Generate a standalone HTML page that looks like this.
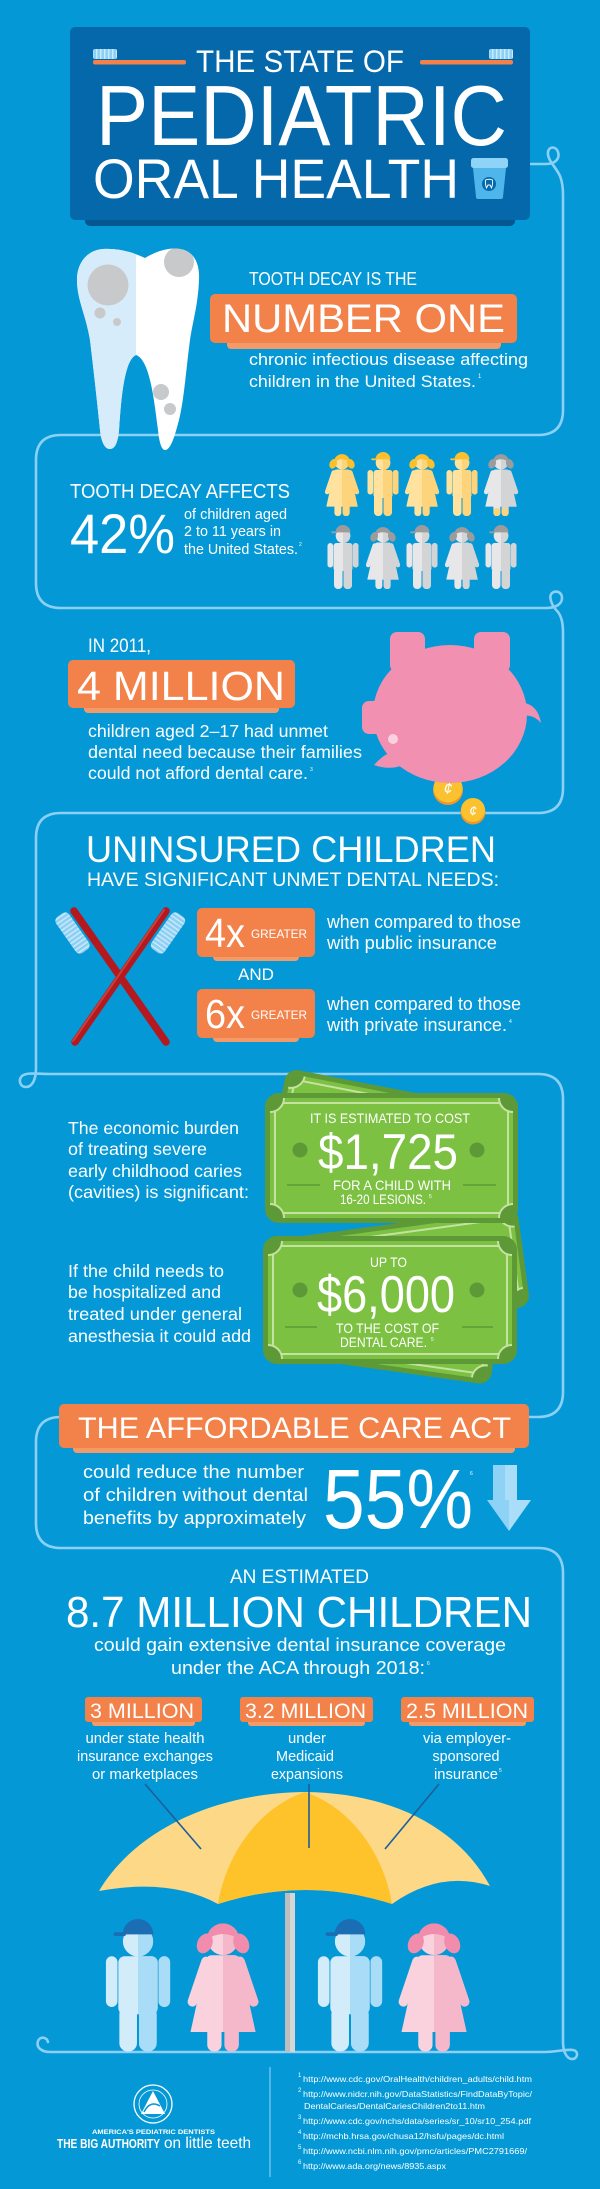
<!DOCTYPE html>
<html><head><meta charset="utf-8"><style>
html,body{margin:0;padding:0;background:#0499D6;}
svg{display:block;}
</style></head><body>
<svg xmlns="http://www.w3.org/2000/svg" xmlns:xlink="http://www.w3.org/1999/xlink" width="600" height="2189" viewBox="0 0 600 2189" font-family="'Liberation Sans', sans-serif">
<defs>
<pattern id="brV" width="4" height="10" patternUnits="userSpaceOnUse"><rect width="4" height="10" fill="#8ED0F4"/><rect width="1.4" height="10" fill="#CBEAFB"/></pattern>
<pattern id="brH" width="10" height="4" patternUnits="userSpaceOnUse"><rect width="10" height="4" fill="#8ED0F4"/><rect width="10" height="1.4" fill="#CBEAFB"/></pattern>
<clipPath id="rh"><rect x="0" y="-5" width="40" height="80"/></clipPath>
<path id="toothP" d="M145 258 C155 252 168 247 180 249 C193 251 200 262 199 280 C198 305 193 320 190 340 C186 370 184 400 179 420 C175 435 171 450 165 450 C161 450 159 440 158 430 C154 400 150 360 136 355 C124 360 121 400 119 430 C118 442 115 449 110 449 C104 449 101 440 100 430 C97 400 93 365 90 340 C86 315 77 300 77 280 C77 262 88 250 103 249 C118 248 132 252 145 258 Z"/>
<clipPath id="toothClip"><use xlink:href="#toothP"/></clipPath>
<clipPath id="toothLeft"><rect x="0" y="200" width="136" height="300"/></clipPath>
<clipPath id="c1"><rect x="270" y="1098" width="243" height="120"/></clipPath>
<clipPath id="c2"><rect x="268" y="1241" width="244" height="118"/></clipPath>
<clipPath id="cb1"><rect x="5" y="5" width="222" height="115"/></clipPath>
<clipPath id="cb2"><rect x="5" y="5" width="244" height="90"/></clipPath>
<clipPath id="cb3"><rect x="5" y="5" width="210" height="110"/></clipPath>
<g id="boy" fill="currentColor">
  <circle cx="0" cy="10.8" r="7.3"/>
  <rect x="-9.5" y="18" width="19" height="28" rx="3"/>
  <rect x="-15.5" y="18" width="5.6" height="24.5" rx="2.8"/>
  <rect x="9.9" y="18" width="5.6" height="24.5" rx="2.8"/>
  <rect x="-9" y="42" width="8.5" height="22" rx="4"/>
  <rect x="0.5" y="42" width="8.5" height="22" rx="4"/>
</g>
<g id="girl" fill="currentColor" stroke="none">
  <circle cx="0" cy="10" r="7.4"/>
  <path d="M-5.5 17.5 H5.5 Q7.5 17.5 8 19.5 L15.7 54.6 H-15.7 L-8 19.5 Q-7.5 17.5 -5.5 17.5Z"/>
  <path d="M-8.2 20.5 L-14.8 40" stroke="currentColor" stroke-width="4.6" stroke-linecap="round"/>
  <path d="M8.2 20.5 L14.8 40" stroke="currentColor" stroke-width="4.6" stroke-linecap="round"/>
  <rect x="-7.6" y="50" width="6.9" height="14" rx="3.2"/>
  <rect x="0.7" y="50" width="6.9" height="14" rx="3.2"/>
</g>
<g id="cap" fill="currentColor">
  <path d="M-7.4 7.4 A7.4 7.4 0 0 1 7.4 7.4 Z"/>
  <rect x="-11.8" y="6.4" width="6" height="1.8" rx="0.9"/>
</g>
<g id="hair" fill="currentColor">
  <ellipse cx="-8.8" cy="11.8" rx="3.6" ry="5" transform="rotate(25 -8.8 11.8)"/>
  <ellipse cx="8.8" cy="11.8" rx="3.6" ry="5" transform="rotate(-25 8.8 11.8)"/>
  <path d="M-7.9 10 A7.9 7.9 0 0 1 7.9 10 Q0 4.5 -7.9 10Z"/>
</g>
</defs>

<rect width="600" height="2189" fill="#0499D6"/>

<!-- floss line -->
<path fill="none" stroke="#8CD0F5" stroke-width="2.6" stroke-linecap="round" d="M508 164 L546 164 C556 164 560 158 558 152 C556 146 549 146 548 152 C547 160 556 167 560 176 C562 181 563 187 563 195 L563 410 Q563 435 538 435 L61 435 Q36 435 36 460 L36 583 Q36 608 61 608 L546 608 C556 608 562 604 562 598 C562 592 556 590 552 593 C548 597 552 606 558 612 C561 616 563 622 563 632 L563 788 Q563 813 538 813 L61 813 Q36 813 36 838 L36 1068 C36 1080 32 1087 26 1087 C20 1087 18 1080 22 1076 C27 1072 36 1074 50 1074 L538 1074 Q563 1074 563 1099 L563 1392 Q563 1417 538 1417 L61 1417 Q36 1417 36 1442 L36 1523 Q36 1548 61 1548 L538 1548 Q563 1548 563 1573 L563 2042 C563 2050 566 2059 572 2059 C578 2059 579 2051 573 2050 C566 2049 556 2052 545 2052 L50 2052 C41 2052 36 2047 38 2041 C40 2036 47 2037 48 2042"/>

<!-- HEADER -->
<rect x="85" y="32" width="430" height="194" rx="5" fill="#04578F"/>
<rect x="70" y="27" width="460" height="193" rx="5" fill="#0468AB"/>
<rect x="93" y="60" width="93" height="4.5" rx="2" fill="#F2814A"/>
<rect x="93" y="49" width="24" height="10" rx="2" fill="url(#brV)"/>
<rect x="420" y="60" width="93" height="4.5" rx="2" fill="#F2814A"/>
<rect x="489" y="49" width="24" height="10" rx="2" fill="url(#brV)"/>
<text x="196" y="72" font-size="31.5" fill="#fff" textLength="208" lengthAdjust="spacingAndGlyphs">THE STATE OF</text>
<text x="96" y="145" font-size="85" fill="#fff" textLength="411" lengthAdjust="spacingAndGlyphs">PEDIATRIC</text>
<text x="93" y="198" font-size="56" fill="#fff" textLength="366" lengthAdjust="spacingAndGlyphs">ORAL HEALTH</text>
<!-- floss container -->
<path d="M473 168 H506 L503 197 Q503 199 501 199 H478 Q476 199 476 197 Z" fill="#4FB6EB"/>
<rect x="471" y="158" width="37" height="10" rx="2.5" fill="#8FD3F6"/>
<circle cx="489" cy="184" r="7" fill="#0468AB"/>
<path d="M485.5 180 Q489 178.5 492.5 180 Q493 184 491.5 188 L490 185 H488 L486.5 188 Q485 184 485.5 180Z" fill="none" stroke="#fff" stroke-width="0.9"/>

<!-- SECTION 1 tooth -->
<use xlink:href="#toothP" fill="#FFFFFF"/>
<use xlink:href="#toothP" fill="#D7ECFA" clip-path="url(#toothLeft)"/>
<g clip-path="url(#toothClip)" fill="#C8C9CB">
  <circle cx="108" cy="285" r="20.5"/>
  <circle cx="179" cy="262" r="15"/>
  <circle cx="100" cy="313" r="5.5"/>
  <circle cx="117" cy="322" r="4"/>
  <circle cx="161" cy="392" r="8"/>
  <circle cx="170" cy="409" r="6"/>
</g>
<text x="249" y="285" font-size="18" fill="#fff" textLength="168" lengthAdjust="spacingAndGlyphs">TOOTH DECAY IS THE</text>
<rect x="227" y="300" width="274" height="49" rx="4" fill="#F29A68"/>
<rect x="210" y="294" width="307" height="49" rx="5" fill="#F2814A"/>
<text x="222" y="332" font-size="40" fill="#fff" textLength="283" lengthAdjust="spacingAndGlyphs">NUMBER ONE</text>
<text x="249" y="365" font-size="17" fill="#fff" textLength="279" lengthAdjust="spacingAndGlyphs">chronic infectious disease affecting</text>
<text x="249" y="387" font-size="17" fill="#fff" textLength="227" lengthAdjust="spacingAndGlyphs">children in the United States.</text>
<text x="478" y="378" font-size="6" fill="#fff">1</text>

<!-- SECTION 2 42% -->
<text x="70" y="498" font-size="20" fill="#fff" textLength="220" lengthAdjust="spacingAndGlyphs">TOOTH DECAY AFFECTS</text>
<text x="70" y="553" font-size="56" fill="#fff" textLength="105" lengthAdjust="spacingAndGlyphs">42%</text>
<text x="184" y="519" font-size="15" fill="#fff" textLength="103" lengthAdjust="spacingAndGlyphs">of children aged</text>
<text x="184" y="536" font-size="15" fill="#fff" textLength="97" lengthAdjust="spacingAndGlyphs">2 to 11 years in</text>
<text x="184" y="554" font-size="15" fill="#fff" textLength="114" lengthAdjust="spacingAndGlyphs">the United States.</text>
<text x="299" y="546" font-size="5" fill="#fff">2</text>

<!-- people grid row 1 -->
<g transform="translate(342,452)"><use xlink:href="#girl" color="#FFE29E"/><use xlink:href="#girl" color="#FDD47C" clip-path="url(#rh)"/><use xlink:href="#hair" color="#FCC02E"/></g>
<g transform="translate(383,452)"><use xlink:href="#boy" color="#FFE29E"/><use xlink:href="#boy" color="#FDD47C" clip-path="url(#rh)"/><use xlink:href="#cap" color="#FCC02E"/></g>
<g transform="translate(422,452)"><use xlink:href="#girl" color="#FFE29E"/><use xlink:href="#girl" color="#FDD47C" clip-path="url(#rh)"/><use xlink:href="#hair" color="#FCC02E"/></g>
<g transform="translate(462,452)"><use xlink:href="#boy" color="#FFE29E"/><use xlink:href="#boy" color="#FDD47C" clip-path="url(#rh)"/><use xlink:href="#cap" color="#FCC02E"/></g>
<g transform="translate(501,452)"><use xlink:href="#girl" color="#E7E7E9"/><use xlink:href="#girl" color="#D3D4D6" clip-path="url(#rh)"/><use xlink:href="#hair" color="#9C9C9C"/>
  <rect x="-7.6" y="56" width="6.9" height="8" rx="3" fill="#FDD47C"/><rect x="0.7" y="56" width="6.9" height="8" rx="3" fill="#FDD47C"/></g>
<!-- row 2 -->
<g transform="translate(343,525)"><use xlink:href="#boy" color="#E7E7E9"/><use xlink:href="#boy" color="#D3D4D6" clip-path="url(#rh)"/><use xlink:href="#cap" color="#9C9C9C"/></g>
<g transform="translate(383,525)"><use xlink:href="#girl" color="#E7E7E9"/><use xlink:href="#girl" color="#D3D4D6" clip-path="url(#rh)"/><use xlink:href="#hair" color="#9C9C9C"/></g>
<g transform="translate(422,525)"><use xlink:href="#boy" color="#E7E7E9"/><use xlink:href="#boy" color="#D3D4D6" clip-path="url(#rh)"/><use xlink:href="#cap" color="#9C9C9C"/></g>
<g transform="translate(462,525)"><use xlink:href="#girl" color="#E7E7E9"/><use xlink:href="#girl" color="#D3D4D6" clip-path="url(#rh)"/><use xlink:href="#hair" color="#9C9C9C"/></g>
<g transform="translate(501,525)"><use xlink:href="#boy" color="#E7E7E9"/><use xlink:href="#boy" color="#D3D4D6" clip-path="url(#rh)"/><use xlink:href="#cap" color="#9C9C9C"/></g>

<!-- SECTION 3 4 MILLION -->
<text x="88" y="652" font-size="19" fill="#fff" textLength="63" lengthAdjust="spacingAndGlyphs">IN 2011,</text>
<rect x="84" y="666" width="195" height="47" rx="4" fill="#F29A68"/>
<rect x="68" y="660" width="227" height="48" rx="5" fill="#F2814A"/>
<text x="77" y="700" font-size="41" fill="#fff" textLength="208" lengthAdjust="spacingAndGlyphs">4 MILLION</text>
<text x="88" y="737" font-size="17.5" fill="#fff" textLength="240" lengthAdjust="spacingAndGlyphs">children aged 2–17 had unmet</text>
<text x="88" y="758" font-size="17.5" fill="#fff" textLength="274" lengthAdjust="spacingAndGlyphs">dental need because their families</text>
<text x="88" y="779" font-size="17.5" fill="#fff" textLength="220" lengthAdjust="spacingAndGlyphs">could not afford dental care.</text>
<text x="310" y="771" font-size="5" fill="#fff">3</text>
<!-- coins -->
<circle cx="448" cy="790" r="15" fill="#EE962A"/>
<circle cx="448" cy="788" r="14.5" fill="#FBC12E"/>
<text x="448" y="794" font-size="16" fill="#fff" text-anchor="middle" font-style="italic">¢</text>
<circle cx="473" cy="812" r="12.5" fill="#EE962A"/>
<circle cx="473" cy="810" r="12" fill="#FBC12E"/>
<text x="473" y="815.5" font-size="14" fill="#fff" text-anchor="middle" font-style="italic">¢</text>
<!-- piggy -->
<g fill="#F190B0">
  <rect x="390" y="632" width="35" height="40" rx="7"/>
  <rect x="474" y="632" width="36" height="40" rx="7"/>
  <ellipse cx="450" cy="714" rx="77" ry="69"/>
  <rect x="362" y="701" width="22" height="33" rx="7"/>
  <path d="M525 703 Q538 706 541 723 Q533 714 524 716 Z"/>
  <path d="M374 765 Q384 754 392 752 L401 766 Q388 770 374 765 Z"/>
</g>
<circle cx="393" cy="739" r="5" fill="#FAD2DF"/>

<!-- SECTION 4 uninsured -->
<text x="86" y="862" font-size="37" fill="#fff" textLength="410" lengthAdjust="spacingAndGlyphs">UNINSURED CHILDREN</text>
<text x="87" y="886" font-size="19.5" fill="#fff" textLength="412" lengthAdjust="spacingAndGlyphs">HAVE SIGNIFICANT UNMET DENTAL NEEDS:</text>
<rect x="64.5" y="911" width="16" height="44" rx="5" fill="url(#brH)" transform="rotate(-35 72.5 933)"/>
<rect x="160" y="911" width="16" height="44" rx="5" fill="url(#brH)" transform="rotate(35 168 933)"/>
<line x1="74" y1="911" x2="166" y2="1042" stroke="#B3191F" stroke-width="7.5" stroke-linecap="round"/>
<line x1="166" y1="911" x2="75" y2="1042" stroke="#B3191F" stroke-width="7.5" stroke-linecap="round"/>
<line x1="166" y1="911" x2="75" y2="1042" stroke="#C9403A" stroke-width="2" stroke-linecap="round" transform="translate(-2 -1)"/>
<rect x="213" y="913" width="86" height="48" rx="4" fill="#F29A68"/>
<rect x="197" y="908" width="118" height="49" rx="5" fill="#F2814A"/>
<text x="205" y="947" font-size="41" fill="#fff" textLength="40" lengthAdjust="spacingAndGlyphs">4x</text>
<text x="251" y="938" font-size="11.5" fill="#fff" textLength="56" lengthAdjust="spacingAndGlyphs">GREATER</text>
<text x="238" y="980" font-size="16.5" fill="#fff" textLength="36" lengthAdjust="spacingAndGlyphs">AND</text>
<rect x="213" y="994" width="86" height="48" rx="4" fill="#F29A68"/>
<rect x="197" y="989" width="118" height="49" rx="5" fill="#F2814A"/>
<text x="205" y="1028" font-size="41" fill="#fff" textLength="40" lengthAdjust="spacingAndGlyphs">6x</text>
<text x="251" y="1019" font-size="11.5" fill="#fff" textLength="56" lengthAdjust="spacingAndGlyphs">GREATER</text>
<text x="327" y="928" font-size="18" fill="#fff" textLength="194" lengthAdjust="spacingAndGlyphs">when compared to those</text>
<text x="327" y="949" font-size="18" fill="#fff" textLength="170" lengthAdjust="spacingAndGlyphs">with public insurance</text>
<text x="327" y="1010" font-size="18" fill="#fff" textLength="194" lengthAdjust="spacingAndGlyphs">when compared to those</text>
<text x="327" y="1031" font-size="18" fill="#fff" textLength="180" lengthAdjust="spacingAndGlyphs">with private insurance.</text>
<text x="509" y="1023" font-size="5" fill="#fff">4</text>

<!-- SECTION 5 money -->
<text x="68" y="1134" font-size="17.5" fill="#fff" textLength="171" lengthAdjust="spacingAndGlyphs">The economic burden</text>
<text x="68" y="1155" font-size="17.5" fill="#fff" textLength="139" lengthAdjust="spacingAndGlyphs">of treating severe</text>
<text x="68" y="1177" font-size="17.5" fill="#fff" textLength="174" lengthAdjust="spacingAndGlyphs">early childhood caries</text>
<text x="68" y="1198" font-size="17.5" fill="#fff" textLength="181" lengthAdjust="spacingAndGlyphs">(cavities) is significant:</text>
<text x="68" y="1277" font-size="17.5" fill="#fff" textLength="156" lengthAdjust="spacingAndGlyphs">If the child needs to</text>
<text x="68" y="1298" font-size="17.5" fill="#fff" textLength="153" lengthAdjust="spacingAndGlyphs">be hospitalized and</text>
<text x="68" y="1320" font-size="17.5" fill="#fff" textLength="174" lengthAdjust="spacingAndGlyphs">treated under general</text>
<text x="68" y="1342" font-size="17.5" fill="#fff" textLength="183" lengthAdjust="spacingAndGlyphs">anesthesia it could add</text>

<!-- back bills -->
<g transform="translate(287 1068) rotate(11)">
  <rect x="0" y="0" width="232" height="125" rx="12" fill="#5E9937"/>
  <rect x="5" y="5" width="222" height="115" fill="#7CC142"/>
  <rect x="10" y="10" width="212" height="105" fill="none" stroke="#C4E2A0" stroke-width="2"/>
  <g clip-path="url(#cb1)" fill="#5E9937" stroke="#C4E2A0" stroke-width="2">
    <circle cx="5" cy="5" r="14"/><circle cx="227" cy="5" r="14"/><circle cx="5" cy="120" r="14"/><circle cx="227" cy="120" r="14"/>
  </g>
</g>
<g transform="translate(490 1385) rotate(8) translate(-220 -120)">
  <rect x="0" y="0" width="220" height="120" rx="12" fill="#5E9937"/>
  <rect x="5" y="5" width="210" height="110" fill="#7CC142"/>
  <rect x="10" y="10" width="200" height="100" fill="none" stroke="#C4E2A0" stroke-width="2"/>
  <g clip-path="url(#cb3)" fill="#5E9937" stroke="#C4E2A0" stroke-width="2">
    <circle cx="5" cy="5" r="14"/><circle cx="215" cy="5" r="14"/><circle cx="5" cy="115" r="14"/><circle cx="215" cy="115" r="14"/>
  </g>
</g>
<g transform="translate(517 1207) rotate(-7.7) translate(-254 0)">
  <rect x="0" y="0" width="254" height="100" rx="12" fill="#5E9937"/>
  <rect x="5" y="5" width="244" height="90" fill="#7CC142"/>
  <rect x="10" y="10" width="234" height="80" fill="none" stroke="#C4E2A0" stroke-width="2"/>
  <g clip-path="url(#cb2)" fill="#5E9937" stroke="#C4E2A0" stroke-width="2">
    <circle cx="5" cy="5" r="14"/><circle cx="249" cy="5" r="14"/><circle cx="5" cy="95" r="14"/><circle cx="249" cy="95" r="14"/>
  </g>
</g>
<!-- front bill 1 -->
<g>
  <rect x="265" y="1093" width="253" height="130" rx="14" fill="#5E9937"/>
  <rect x="270" y="1098" width="243" height="120" fill="#7CC142"/>
  <rect x="275" y="1103" width="233" height="110" fill="none" stroke="#C4E2A0" stroke-width="2"/>
  <g clip-path="url(#c1)" fill="#5E9937" stroke="#C4E2A0" stroke-width="2">
    <circle cx="270" cy="1098" r="14"/><circle cx="513" cy="1098" r="14"/><circle cx="270" cy="1218" r="14"/><circle cx="513" cy="1218" r="14"/>
  </g>
  <circle cx="300" cy="1150" r="7.5" fill="#5E9937"/>
  <circle cx="477" cy="1150" r="7.5" fill="#5E9937"/>
  <line x1="287" y1="1185" x2="320" y2="1185" stroke="#5E9937" stroke-width="1.6"/>
  <line x1="463" y1="1185" x2="496" y2="1185" stroke="#5E9937" stroke-width="1.6"/>
  <text x="310" y="1123" font-size="14" fill="#fff" textLength="160" lengthAdjust="spacingAndGlyphs">IT IS ESTIMATED TO COST</text>
  <text x="318" y="1169" font-size="50" fill="#fff" textLength="140" lengthAdjust="spacingAndGlyphs">$1,725</text>
  <text x="333" y="1190" font-size="14" fill="#fff" textLength="118" lengthAdjust="spacingAndGlyphs">FOR A CHILD WITH</text>
  <text x="340" y="1204" font-size="14" fill="#fff" textLength="86" lengthAdjust="spacingAndGlyphs">16-20 LESIONS.</text>
  <text x="429" y="1198" font-size="5" fill="#fff">5</text>
</g>
<!-- front bill 2 -->
<g>
  <rect x="263" y="1236" width="254" height="128" rx="14" fill="#5E9937"/>
  <rect x="268" y="1241" width="244" height="118" fill="#7CC142"/>
  <rect x="273" y="1246" width="234" height="108" fill="none" stroke="#C4E2A0" stroke-width="2"/>
  <g clip-path="url(#c2)" fill="#5E9937" stroke="#C4E2A0" stroke-width="2">
    <circle cx="268" cy="1241" r="14"/><circle cx="512" cy="1241" r="14"/><circle cx="268" cy="1359" r="14"/><circle cx="512" cy="1359" r="14"/>
  </g>
  <circle cx="300" cy="1290" r="7.5" fill="#5E9937"/>
  <circle cx="477" cy="1290" r="7.5" fill="#5E9937"/>
  <line x1="285" y1="1327" x2="317" y2="1327" stroke="#5E9937" stroke-width="1.6"/>
  <line x1="462" y1="1327" x2="493" y2="1327" stroke="#5E9937" stroke-width="1.6"/>
  <text x="370" y="1267" font-size="14" fill="#fff" textLength="37" lengthAdjust="spacingAndGlyphs">UP TO</text>
  <text x="317" y="1312" font-size="52" fill="#fff" textLength="138" lengthAdjust="spacingAndGlyphs">$6,000</text>
  <text x="336" y="1333" font-size="14" fill="#fff" textLength="103" lengthAdjust="spacingAndGlyphs">TO THE COST OF</text>
  <text x="340" y="1347" font-size="14" fill="#fff" textLength="87" lengthAdjust="spacingAndGlyphs">DENTAL CARE.</text>
  <text x="431" y="1341" font-size="5" fill="#fff">5</text>
</g>

<!-- SECTION 6 ACA -->
<rect x="73" y="1410" width="442" height="43" rx="4" fill="#F29A68"/>
<rect x="59" y="1404" width="470" height="44" rx="5" fill="#F2814A"/>
<text x="78" y="1438" font-size="30" fill="#fff" textLength="433" lengthAdjust="spacingAndGlyphs">THE AFFORDABLE CARE ACT</text>
<text x="83" y="1478" font-size="18.5" fill="#fff" textLength="221" lengthAdjust="spacingAndGlyphs">could reduce the number</text>
<text x="83" y="1501" font-size="18.5" fill="#fff" textLength="225" lengthAdjust="spacingAndGlyphs">of children without dental</text>
<text x="83" y="1524" font-size="18.5" fill="#fff" textLength="223" lengthAdjust="spacingAndGlyphs">benefits by approximately</text>
<text x="323" y="1528" font-size="84" fill="#fff" textLength="150" lengthAdjust="spacingAndGlyphs">55%</text>
<text x="470" y="1475" font-size="5" fill="#fff">6</text>
<rect x="493" y="1465" width="12" height="38" fill="#8ED2F6"/>
<rect x="505" y="1465" width="12" height="38" fill="#A9DDF8"/>
<path d="M487 1500 H509 V1531 Z" fill="#8ED2F6"/>
<path d="M509 1500 H531 L509 1531 Z" fill="#A9DDF8"/>

<!-- SECTION 7 -->
<text x="230" y="1583" font-size="19.5" fill="#fff" textLength="139" lengthAdjust="spacingAndGlyphs">AN ESTIMATED</text>
<text x="66" y="1627" font-size="44" fill="#fff" textLength="466" lengthAdjust="spacingAndGlyphs">8.7 MILLION CHILDREN</text>
<text x="94" y="1651" font-size="18.5" fill="#fff" textLength="412" lengthAdjust="spacingAndGlyphs">could gain extensive dental insurance coverage</text>
<text x="171" y="1674" font-size="18.5" fill="#fff" textLength="254" lengthAdjust="spacingAndGlyphs">under the ACA through 2018:</text>
<text x="427" y="1665" font-size="5" fill="#fff">6</text>

<rect x="92" y="1701" width="103" height="25" rx="3" fill="#F29A68"/>
<rect x="85" y="1697" width="117" height="25" rx="3" fill="#F2814A"/>
<rect x="248" y="1701" width="117" height="25" rx="3" fill="#F29A68"/>
<rect x="240" y="1697" width="133" height="25" rx="3" fill="#F2814A"/>
<rect x="409" y="1701" width="117" height="25" rx="3" fill="#F29A68"/>
<rect x="401" y="1697" width="133" height="25" rx="3" fill="#F2814A"/>
<text x="90" y="1718" font-size="21" fill="#fff" textLength="104" lengthAdjust="spacingAndGlyphs">3 MILLION</text>
<text x="245" y="1718" font-size="21" fill="#fff" textLength="121" lengthAdjust="spacingAndGlyphs">3.2 MILLION</text>
<text x="406" y="1718" font-size="21" fill="#fff" textLength="122" lengthAdjust="spacingAndGlyphs">2.5 MILLION</text>

<g font-size="14.5" fill="#fff" text-anchor="middle">
  <text x="145" y="1743" textLength="119" lengthAdjust="spacingAndGlyphs">under state health</text>
  <text x="145" y="1761" textLength="136" lengthAdjust="spacingAndGlyphs">insurance exchanges</text>
  <text x="145" y="1779" textLength="106" lengthAdjust="spacingAndGlyphs">or marketplaces</text>
  <text x="307" y="1743" textLength="38" lengthAdjust="spacingAndGlyphs">under</text>
  <text x="305" y="1761" textLength="58" lengthAdjust="spacingAndGlyphs">Medicaid</text>
  <text x="307" y="1779" textLength="72" lengthAdjust="spacingAndGlyphs">expansions</text>
  <text x="467" y="1743" textLength="88" lengthAdjust="spacingAndGlyphs">via employer-</text>
  <text x="466" y="1761" textLength="67" lengthAdjust="spacingAndGlyphs">sponsored</text>
  <text x="466" y="1779" textLength="64" lengthAdjust="spacingAndGlyphs">insurance</text>
</g>
<text x="499" y="1772" font-size="5" fill="#fff">5</text>

<!-- umbrella -->
<path d="M99 1891 C135 1830 215 1793 305 1792 C395 1793 460 1830 490 1886 Q440 1870 392 1904 Q305 1876 218 1904 Q170 1878 99 1891 Z" fill="#FDD886"/>
<path d="M305 1792 C258 1808 226 1855 218 1904 Q305 1876 392 1904 C384 1855 352 1808 305 1792 Z" fill="#FEC22B"/>
<rect x="285" y="1893" width="5" height="159" fill="#BEBEBE"/>
<rect x="290" y="1893" width="5" height="159" fill="#D6D6D6"/>
<g stroke="#1F5C9A" stroke-width="1.6">
  <line x1="145" y1="1784" x2="201" y2="1849"/>
  <line x1="309" y1="1784" x2="309" y2="1848"/>
  <line x1="439" y1="1784" x2="385" y2="1849"/>
</g>

<!-- big kids -->
<g transform="translate(138,1919) scale(2.07)"><use xlink:href="#boy" color="#D3ECFA"/><use xlink:href="#boy" color="#A9DCF7" clip-path="url(#rh)"/><use xlink:href="#cap" color="#1C6EB4"/></g>
<g transform="translate(223,1919) scale(2.07)"><use xlink:href="#girl" color="#F9D2DE"/><use xlink:href="#girl" color="#F5B8CB" clip-path="url(#rh)"/><use xlink:href="#hair" color="#F18CAC"/></g>
<g transform="translate(350,1919) scale(2.07)"><use xlink:href="#boy" color="#D3ECFA"/><use xlink:href="#boy" color="#A9DCF7" clip-path="url(#rh)"/><use xlink:href="#cap" color="#1C6EB4"/></g>
<g transform="translate(434,1919) scale(2.07)"><use xlink:href="#girl" color="#F9D2DE"/><use xlink:href="#girl" color="#F5B8CB" clip-path="url(#rh)"/><use xlink:href="#hair" color="#F18CAC"/></g>

<!-- FOOTER -->
<line x1="270" y1="2067" x2="270" y2="2177" stroke="#6EC4EF" stroke-width="1.4"/>
<circle cx="153" cy="2104" r="19" fill="none" stroke="#fff" stroke-width="1.3"/>
<circle cx="153" cy="2104" r="14" fill="none" stroke="#fff" stroke-width="0.8"/>
<path d="M153 2091 L165 2114 H141 Z" fill="#fff"/>
<path d="M144 2112 Q150 2100 160 2106" fill="none" stroke="#0499D6" stroke-width="1.5"/>
<text x="92" y="2134" font-size="6.5" font-weight="bold" fill="#fff" textLength="123" lengthAdjust="spacingAndGlyphs">AMERICA'S PEDIATRIC DENTISTS</text>
<text x="57" y="2148" font-size="13" font-weight="bold" fill="#fff" textLength="103" lengthAdjust="spacingAndGlyphs">THE BIG AUTHORITY</text>
<text x="164" y="2148" font-size="16" fill="#fff" textLength="87" lengthAdjust="spacingAndGlyphs">on little teeth</text>

<g font-size="8.5" fill="#fff">
  <text x="298" y="2077" font-size="6">1</text>
  <text x="303" y="2082" textLength="229" lengthAdjust="spacingAndGlyphs">http://www.cdc.gov/OralHealth/children_adults/child.htm</text>
  <text x="298" y="2092" font-size="6">2</text>
  <text x="303" y="2097" textLength="229" lengthAdjust="spacingAndGlyphs">http://www.nidcr.nih.gov/DataStatistics/FindDataByTopic/</text>
  <text x="304" y="2109" textLength="181" lengthAdjust="spacingAndGlyphs">DentalCaries/DentalCariesChildren2to11.htm</text>
  <text x="298" y="2119" font-size="6">3</text>
  <text x="303" y="2124" textLength="228" lengthAdjust="spacingAndGlyphs">http://www.cdc.gov/nchs/data/series/sr_10/sr10_254.pdf</text>
  <text x="298" y="2134" font-size="6">4</text>
  <text x="303" y="2139" textLength="201" lengthAdjust="spacingAndGlyphs">http://mchb.hrsa.gov/chusa12/hsfu/pages/dc.html</text>
  <text x="298" y="2149" font-size="6">5</text>
  <text x="303" y="2154" textLength="224" lengthAdjust="spacingAndGlyphs">http://www.ncbi.nlm.nih.gov/pmc/articles/PMC2791669/</text>
  <text x="298" y="2164" font-size="6">6</text>
  <text x="303" y="2169" textLength="143" lengthAdjust="spacingAndGlyphs">http://www.ada.org/news/8935.aspx</text>
</g>
</svg>
</body></html>
